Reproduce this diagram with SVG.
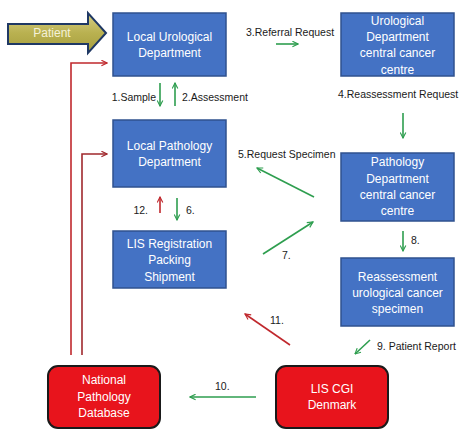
<svg xmlns="http://www.w3.org/2000/svg" width="474" height="438" viewBox="0 0 474 438">
<defs>
<linearGradient id="pg" x1="0" y1="0" x2="0" y2="1">
<stop offset="0" stop-color="#d6cf86"/>
<stop offset="0.5" stop-color="#b9b150"/>
<stop offset="1" stop-color="#a59d3e"/>
</linearGradient>
<marker id="ag" viewBox="0 0 10 10" refX="9" refY="5" markerWidth="7" markerHeight="7" orient="auto" markerUnits="userSpaceOnUse">
<path d="M1,1 L9,5 L1,9" fill="none" stroke="#2e9e4f" stroke-width="1.6"/>
</marker>
<marker id="ar" viewBox="0 0 10 10" refX="9" refY="5" markerWidth="7" markerHeight="7" orient="auto" markerUnits="userSpaceOnUse">
<path d="M1,1 L9,5 L1,9" fill="none" stroke="#c0282d" stroke-width="1.6"/>
</marker>
<marker id="ad" viewBox="0 0 10 10" refX="9" refY="5" markerWidth="7" markerHeight="7" orient="auto" markerUnits="userSpaceOnUse">
<path d="M1,1 L9,5 L1,9" fill="none" stroke="#a0282d" stroke-width="1.6"/>
</marker>
</defs>
<style>
.box{fill:#4472c4;stroke:#2f528f;stroke-width:1.5}
.red{fill:#e8141c;stroke:#1a1a1a;stroke-width:2}
.bt{font-family:"Liberation Sans",Arial,sans-serif;font-size:12px;fill:#ffffff;text-anchor:middle}
.lb{font-family:"Liberation Sans",Arial,sans-serif;font-size:10.5px;fill:#1a1a1a}
.g{stroke:#2e9e4f;stroke-width:1.6;fill:none;marker-end:url(#ag)}
.r{stroke:#c0282d;stroke-width:1.6;fill:none;marker-end:url(#ar)}
</style>
<rect width="474" height="438" fill="#ffffff"/>

<g id="patient">
<path d="M8,24 L88,24 L88,13 L106,33 L88,53 L88,44 L8,44 Z" fill="url(#pg)" stroke="#1f3864" stroke-width="2" stroke-linejoin="miter"/>
<text x="52" y="37" class="bt" style="fill:#f4f1d8">Patient</text>
</g>

<g id="local-uro">
<rect x="113" y="13" width="113" height="63" class="box"/>
<text x="169.5" y="41" class="bt">Local Urological</text>
<text x="169.5" y="57" class="bt">Department</text>
</g>

<g id="local-path">
<rect x="113" y="120" width="113" height="67" class="box"/>
<text x="169.5" y="150" class="bt">Local Pathology</text>
<text x="169.5" y="166" class="bt">Department</text>
</g>

<g id="lis-reg">
<rect x="113" y="231" width="113" height="57" class="box"/>
<text x="169.5" y="248" class="bt">LIS Registration</text>
<text x="169.5" y="264" class="bt">Packing</text>
<text x="169.5" y="281" class="bt">Shipment</text>
</g>

<g id="uro-central">
<rect x="341" y="13" width="113" height="63" class="box"/>
<text x="397.5" y="25" class="bt">Urological</text>
<text x="397.5" y="41" class="bt">Department</text>
<text x="397.5" y="57" class="bt">central cancer</text>
<text x="397.5" y="74" class="bt">centre</text>
</g>

<g id="path-central">
<rect x="341" y="153" width="113" height="68" class="box"/>
<text x="397.5" y="166" class="bt">Pathology</text>
<text x="397.5" y="183" class="bt">Department</text>
<text x="397.5" y="199" class="bt">central cancer</text>
<text x="397.5" y="215" class="bt">centre</text>
</g>

<g id="reassessment">
<rect x="341" y="258" width="113" height="68" class="box"/>
<text x="397.5" y="281" class="bt">Reassessment</text>
<text x="397.5" y="297" class="bt">urological cancer</text>
<text x="397.5" y="313" class="bt">specimen</text>
</g>

<g id="national-db">
<rect x="48" y="366" width="112" height="62" rx="10" class="red"/>
<text x="104" y="384" class="bt">National</text>
<text x="104" y="401" class="bt">Pathology</text>
<text x="104" y="417" class="bt">Database</text>
</g>

<g id="lis-cgi">
<rect x="276" y="366" width="112" height="62" rx="10" class="red"/>
<text x="332" y="393" class="bt">LIS CGI</text>
<text x="332" y="409" class="bt">Denmark</text>
</g>

<g id="connectors">
<path d="M71,355 L71,63 L107,63" class="r"/>
<path d="M82,355 L82,154 L107,154" stroke="#a0282d" stroke-width="1.6" fill="none" marker-end="url(#ad)"/>
<line x1="160" y1="83" x2="160" y2="106" class="g"/>
<line x1="175" y1="106" x2="175" y2="83" class="g"/>
<line x1="160" y1="213" x2="160" y2="197" class="r"/>
<line x1="177" y1="198" x2="177" y2="220" class="g"/>
<line x1="276" y1="44" x2="298" y2="44" class="g"/>
<line x1="403" y1="113" x2="403" y2="138" class="g"/>
<line x1="314" y1="197" x2="257" y2="168" class="g"/>
<line x1="263" y1="254" x2="313" y2="222" class="g"/>
<line x1="403" y1="231" x2="403" y2="251" class="g"/>
<line x1="370" y1="340" x2="355" y2="354" class="g"/>
<line x1="290" y1="345" x2="245" y2="314" class="r"/>
<line x1="256" y1="397" x2="190" y2="397" class="g"/>
</g>

<g id="labels">
<text x="156" y="101" class="lb" text-anchor="end">1.Sample</text>
<text x="182" y="101" class="lb">2.Assessment</text>
<text x="148" y="214" class="lb" text-anchor="end">12.</text>
<text x="186" y="214" class="lb">6.</text>
<text x="246" y="36" class="lb">3.Referral Request</text>
<text x="338" y="98" class="lb">4.Reassessment Request</text>
<text x="238" y="158" class="lb">5.Request Specimen</text>
<text x="282" y="259" class="lb">7.</text>
<text x="411" y="244" class="lb">8.</text>
<text x="377" y="350" class="lb">9. Patient Report</text>
<text x="270" y="324" class="lb">11.</text>
<text x="215" y="390" class="lb">10.</text>
</g>
</svg>
